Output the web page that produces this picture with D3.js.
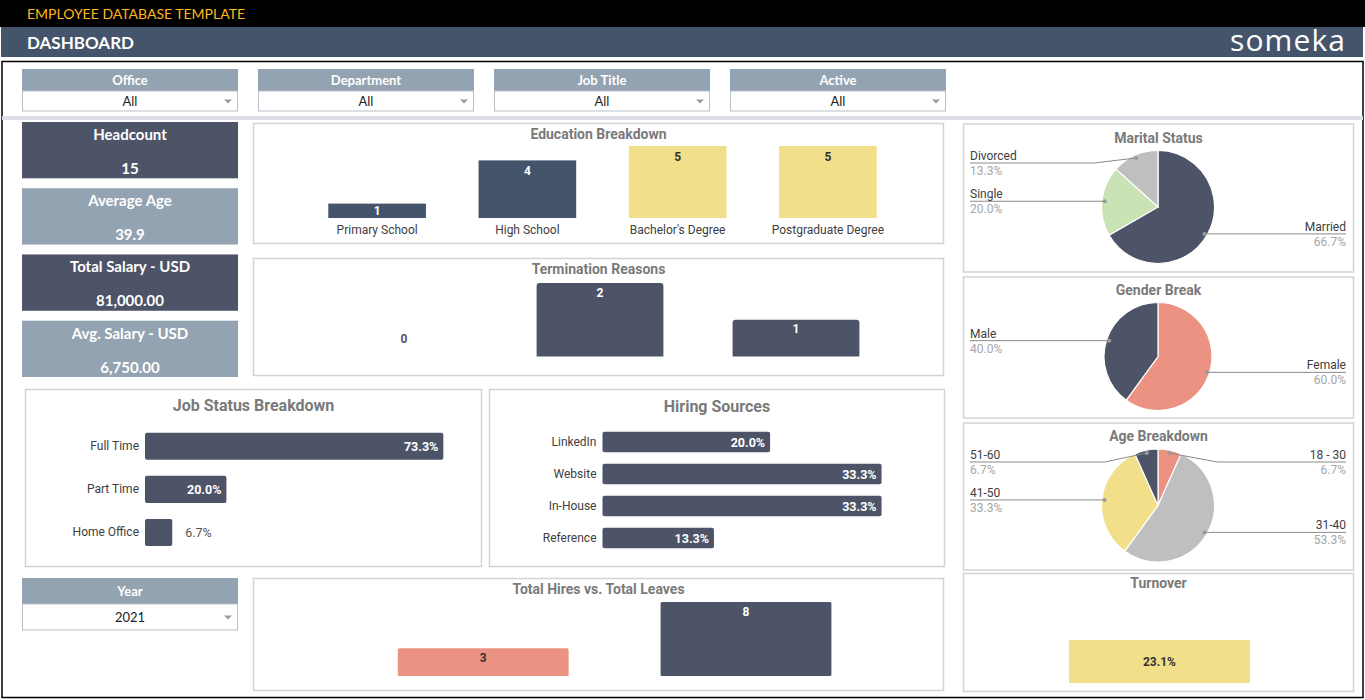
<!DOCTYPE html>
<html><head><meta charset="utf-8">
<script src="https://cdn.jsdelivr.net/npm/d3@7/dist/d3.min.js"></script>
<style>
html,body{margin:0;padding:0;background:#fff;overflow:hidden}
svg{display:block}
</style></head><body>
<svg id="c" width="1365" height="700"></svg>
<script>
// ---------- DATA ----------
const headerTitle = "EMPLOYEE DATABASE TEMPLATE";
const pageTitle = "DASHBOARD";
const filterNames = ["Office","Department","Job Title","Active"];
const filterValues = ["All","All","All","All"];
const kpiTitles = ["Headcount","Average Age","Total Salary - USD","Avg. Salary - USD"];
const kpiValues = ["15","39.9","81,000.00","6,750.00"];
const eduCategories = ["Primary School","High School","Bachelor's Degree","Postgraduate Degree"];
const eduValues = [1,4,5,5];
const termCategories = ["Reason 1","Reason 2","Reason 3"];
const termValues = [0,2,1];
const jobCategories = ["Full Time","Part Time","Home Office"];
const jobValues = [73.3,20.0,6.7];
const hireCategories = ["LinkedIn","Website","In-House","Reference"];
const hireValues = [20.0,33.3,33.3,13.3];
const maritalCategories = ["Married","Single","Divorced"];
const maritalValues = [66.7,20.0,13.3];
const genderCategories = ["Female","Male"];
const genderValues = [60.0,40.0];
const ageCategories = ["18 - 30","31-40","41-50","51-60"];
const ageValues = [6.7,53.3,33.3,6.7];
const flowCategories = ["Total Leaves","Total Hires"];
const flowValues = [3,8];
const yearName = "Year";
const yearValue = "2021";
const turnoverValue = 23.1;

// ---------- STYLE ----------
const C = {
  slate:"#4e5468", eduSlate:"#44546a", light:"#94a3b1", yellow:"#f2df8a",
  salmon:"#eb9282", green:"#c9e3b5", gray:"#bfbfbf", border:"#d3d3d3",
  title:"#7a7a7a", text:"#404040", pct:"#a6a6a6"
};
const FK = "Lato, 'Open Sans', sans-serif";
const FR = "Roboto, sans-serif";

const svg = d3.select("#c");

// ---------- HEADER ----------
svg.append("rect").attr("x",0).attr("y",0).attr("width",1365).attr("height",27).attr("fill","#000");
svg.append("rect").attr("x",1).attr("y",27).attr("width",1362).attr("height",30).attr("fill","#44546a");
svg.append("text").attr("x",27).attr("y",19).attr("fill","#ffb71b")
  .style("font-family",FK).style("font-size","14px").text(headerTitle);
svg.append("text").attr("x",27).attr("y",48.5).attr("fill","#fff")
  .style("font-family",FK).style("font-size","17px").style("font-weight","700").text(pageTitle);
svg.append("text").attr("x",1230).attr("y",51).attr("fill","#fff")
  .attr("textLength",115).attr("lengthAdjust","spacing")
  .style("font-family","'Open Sans', sans-serif").style("font-size","30px").text("someka");

// outer border
svg.append("rect").attr("x",2).attr("y",61.5).attr("width",1361).attr("height",636)
  .attr("fill","none").attr("stroke","#000").attr("stroke-width",1.5);
// stripe
svg.append("rect").attr("x",2).attr("y",116).attr("width",1361).attr("height",4).attr("fill","#dde0e8");

// ---------- FILTERS ----------
function filterBox(x, y, w, hh, fh, name, val){
  const g = svg.append("g");
  g.append("rect").attr("x",x).attr("y",y).attr("width",w).attr("height",hh).attr("fill",C.light);
  g.append("rect").attr("x",x+0.5).attr("y",y+hh).attr("width",w-1).attr("height",fh)
    .attr("fill","#fff").attr("stroke","#b9c0c8").attr("stroke-width",1);
  g.append("text").attr("x",x+w/2).attr("y",y+hh/2+4.5).attr("text-anchor","middle")
    .attr("fill","#fff").style("font-family",FK).style("font-weight","700").style("font-size","13px").text(name);
  g.append("text").attr("x",x+w/2).attr("y",y+hh+fh/2+4.5).attr("text-anchor","middle")
    .attr("fill","#222").style("font-family",FK).style("font-size","13px").text(val);
  const ax = x+w-10, ay = y+hh+fh/2;
  g.append("path").attr("d",`M${ax-4},${ay-1.5}L${ax+4},${ay-1.5}L${ax},${ay+2.5}Z`).attr("fill","#9a9a9a");
}
const fx = d3.scaleBand().domain(filterNames).range([22,946]).paddingInner(20/236).paddingOuter(0);
filterNames.forEach((n,i)=> filterBox(fx(n), 69, fx.bandwidth(), 22, 20, n, filterValues[i]));
filterBox(22, 578, 216, 26, 26, yearName, yearValue);

// ---------- KPI CARDS ----------
const ky = d3.scaleBand().domain(kpiTitles).range([122,377]).paddingInner(0.15).paddingOuter(0);
kpiTitles.forEach((t,i)=>{
  const y = ky(t), h = ky.bandwidth();
  svg.append("rect").attr("x",22).attr("y",y).attr("width",216).attr("height",h)
    .attr("fill", i%2===0 ? C.slate : C.light);
  svg.append("text").attr("x",130).attr("y",y+18).attr("text-anchor","middle").attr("fill","#fff")
    .style("font-family",FK).style("font-weight","700").style("font-size","15px").text(t);
  svg.append("text").attr("x",130).attr("y",y+52).attr("text-anchor","middle").attr("fill","#fff")
    .style("font-family",FK).style("font-weight","700").style("font-size","15px").text(kpiValues[i]);
});

// ---------- PANELS ----------
function panel(x,y,w,h,title,ty,fs){
  svg.append("rect").attr("x",x).attr("y",y).attr("width",w).attr("height",h)
    .attr("fill","#fff").attr("stroke",C.border).attr("stroke-width",1.5);
  svg.append("text").attr("x",x+w/2).attr("y",ty).attr("text-anchor","middle").attr("fill",C.title)
    .style("font-family",FR).style("font-weight","700").style("font-size",fs+"px").text(title);
}

// Education
panel(253.5,123.5,690,120,"Education Breakdown",139,14);
{
  const x = d3.scaleBand().domain(eduCategories).range([302,903]).paddingInner(0.35).paddingOuter(0.175);
  const y = d3.scaleLinear().domain([0,5]).range([218,146]);
  const cols = eduValues.map(v=> v===d3.max(eduValues) ? C.yellow : C.eduSlate);
  const g = svg.append("g");
  g.selectAll("rect.b").data(eduValues).join("rect")
    .attr("x",(d,i)=>x(eduCategories[i])).attr("y",d=>y(d))
    .attr("width",x.bandwidth()).attr("height",d=>y(0)-y(d)).attr("fill",(d,i)=>cols[i]);
  g.selectAll("text.v").data(eduValues).join("text")
    .attr("x",(d,i)=>x(eduCategories[i])+x.bandwidth()/2)
    .attr("y",d=>Math.min(y(d)+14.5,(y(d)+y(0))/2+4.5))
    .attr("text-anchor","middle").attr("fill",(d,i)=>cols[i]===C.yellow?"#333":"#fff")
    .style("font-family",FR).style("font-weight","700").style("font-size","12px").text(d=>d);
  const ax = g.append("g").attr("transform","translate(0,218)").call(d3.axisBottom(x).tickSize(0).tickPadding(7));
  ax.select(".domain").remove();
  ax.selectAll("text").attr("fill",C.text).style("font-family",FR).style("font-size","12px");
}

// Termination
panel(253.5,258.5,690,117,"Termination Reasons",274,14);
{
  const x = d3.scaleBand().domain(termCategories).range([306,894]).paddingInner(0.353).paddingOuter(0.1765);
  const y = d3.scaleLinear().domain([0,2]).range([356.5,283]);
  const g = svg.append("g");
  g.selectAll("path").data(termValues).join("path")
    .attr("d",(d,i)=>{
      const x0 = x(termCategories[i]), w = x.bandwidth(), y0 = y(d), h = y(0)-y(d), r = Math.min(3,h/2);
      if(h<=0) return "";
      return `M${x0},${y0+h}V${y0+r}Q${x0},${y0} ${x0+r},${y0}H${x0+w-r}Q${x0+w},${y0} ${x0+w},${y0+r}V${y0+h}Z`;
    }).attr("fill",C.slate);
  g.selectAll("text").data(termValues).join("text")
    .attr("x",(d,i)=>x(termCategories[i])+x.bandwidth()/2)
    .attr("y",d=> d===0 ? y(0)-14 : y(d)+13.5)
    .attr("text-anchor","middle").attr("fill",d=>d===0?C.slate:"#fff")
    .style("font-family",FR).style("font-weight","700").style("font-size","12px").text(d=>d);
}

// Horizontal bar chart helper
function hbars(cats, vals, x, y, axisX){
  const g = svg.append("g");
  g.selectAll("rect").data(vals).join("rect")
    .attr("x",x(0)).attr("y",(d,i)=>y(cats[i])).attr("rx",2)
    .attr("width",d=>x(d)-x(0)).attr("height",y.bandwidth()).attr("fill",C.slate);
  g.selectAll("text.v").data(vals).join("text")
    .attr("x",d=> (x(d)-x(0))<45 ? x(d)+13 : x(d)-5)
    .attr("y",(d,i)=>y(cats[i])+y.bandwidth()/2+4.5)
    .attr("text-anchor",d=> (x(d)-x(0))<45 ? "start":"end")
    .attr("fill",d=> (x(d)-x(0))<45 ? "#555":"#fff")
    .style("font-family",FR).style("font-weight",d=> (x(d)-x(0))<45 ? "400":"700").style("font-size","12.5px")
    .text(d=>d.toFixed(1)+"%");
  const ax = g.append("g").attr("transform",`translate(${axisX},0)`).call(d3.axisLeft(y).tickSize(0).tickPadding(6));
  ax.select(".domain").remove();
  ax.selectAll("text").attr("fill",C.text).style("font-family",FR).style("font-size","12px");
}

panel(25.5,389.5,456,177,"Job Status Breakdown",411,16);
{
  const x = d3.scaleLinear().domain([0,100]).range([145,552]);
  const y = d3.scaleBand().domain(jobCategories).range([424.7,554]).paddingInner(0.372).paddingOuter(0.186);
  hbars(jobCategories, jobValues, x, y, 145);
}
panel(489.5,389.5,455,177,"Hiring Sources",412,16);
{
  const x = d3.scaleLinear().domain([0,100]).range([602.5,602.5+838]);
  const y = d3.scaleBand().domain(hireCategories).range([426,554]).paddingInner(0.36).paddingOuter(0.18);
  hbars(hireCategories, hireValues, x, y, 602.5);
}

// Hires vs leaves
panel(253.5,578.5,690,112,"Total Hires vs. Total Leaves",594,14);
{
  const x = d3.scaleBand().domain(flowCategories).range([351.8,877.4]).paddingInner(0.35).paddingOuter(0.175);
  const y = d3.scaleLinear().domain([0,8]).range([676,602]);
  const cols = [C.salmon, C.slate];
  const g = svg.append("g");
  g.selectAll("rect").data(flowValues).join("rect")
    .attr("x",(d,i)=>x(flowCategories[i])).attr("y",d=>y(d)).attr("rx",1.5)
    .attr("width",x.bandwidth()).attr("height",d=>y(0)-y(d)).attr("fill",(d,i)=>cols[i]);
  g.selectAll("text").data(flowValues).join("text")
    .attr("x",(d,i)=>x(flowCategories[i])+x.bandwidth()/2).attr("y",d=>y(d)+14)
    .attr("text-anchor","middle").attr("fill",(d,i)=>i===0?"#333":"#fff")
    .style("font-family",FR).style("font-weight","700").style("font-size","12px").text(d=>d);
}

// Turnover
panel(963.5,573.5,390,118,"Turnover",588,14);
svg.append("rect").attr("x",1069).attr("y",640).attr("width",181).attr("height",43).attr("fill",C.yellow);
svg.append("text").attr("x",1159.5).attr("y",665.5).attr("text-anchor","middle").attr("fill","#333")
  .style("font-family",FR).style("font-weight","700").style("font-size","12px").text(turnoverValue.toFixed(1)+"%");

// Pies
function pieChart(px0, py0, w, h, title, ty, cx, cy, r, cats, vals, cols){
  panel(px0,py0,w,h,title,ty,14);
  const g = svg.append("g");
  const arcs = d3.pie().sort(null).value(d=>d)(vals);
  const arc = d3.arc().innerRadius(0).outerRadius(r);
  g.selectAll("path").data(arcs).join("path").attr("transform",`translate(${cx},${cy})`)
    .attr("d",arc).attr("fill",(d,i)=>cols[i]).attr("stroke","#fff").attr("stroke-width",1.2);
  const top = py0 + 39;
  arcs.forEach((d,i)=>{
    const a = (d.startAngle+d.endAngle)/2, pr = r*0.95;
    const px = cx + Math.sin(a)*pr, py = cy - Math.cos(a)*pr;
    const right = Math.sin(a) > 0;
    const ly = Math.max(py, top);
    const edge = right ? 1346 : 970;
    const pts = [[px,py]];
    if (ly > py + 0.5) pts.push([px + (right?48:-42), ly]);
    pts.push([edge, ly]);
    g.append("path").attr("d", d3.line()(pts)).attr("fill","none").attr("stroke","#8a8a8a").attr("stroke-width",1);
    g.append("circle").attr("cx",px).attr("cy",py).attr("r",2).attr("fill","#9a9a9a");
    g.append("text").attr("x",edge).attr("y",ly-3).attr("text-anchor",right?"end":"start").attr("fill",C.text)
      .style("font-family",FR).style("font-size","12px").text(cats[i]);
    g.append("text").attr("x",edge).attr("y",ly+12).attr("text-anchor",right?"end":"start").attr("fill",C.pct)
      .style("font-family",FR).style("font-size","12px").text(vals[i].toFixed(1)+"%");
  });
}
pieChart(963.5,124,390,148,"Marital Status",143,1158,207,56.5,maritalCategories,maritalValues,[C.slate,C.green,C.gray]);
pieChart(963.5,277,390,141,"Gender Break",295,1158,356.5,54,genderCategories,genderValues,[C.salmon,C.slate]);
pieChart(963.5,423,390,147,"Age Breakdown",441,1158,505.5,56.5,ageCategories,ageValues,[C.salmon,C.gray,C.yellow,C.slate]);
</script>
</body></html>
